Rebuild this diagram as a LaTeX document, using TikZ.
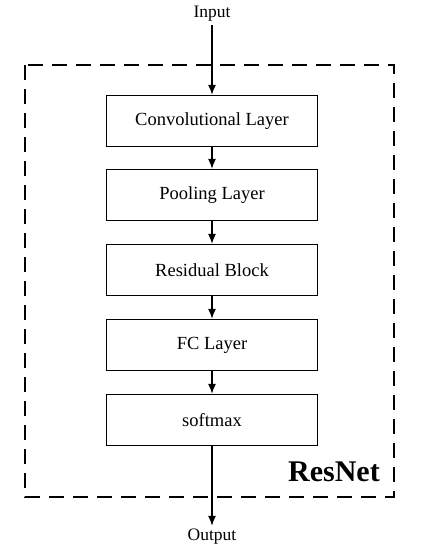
\documentclass[tikz,border=0pt]{standalone}
\usepackage{fontspec}
\setmainfont{Liberation Serif}
\usetikzlibrary{positioning,arrows.meta}
\begin{document}
\begin{tikzpicture}[x=1pt,y=-1pt]
\useasboundingbox (0,0) rectangle (426,550);
\tikzset{layer/.style={rectangle,draw,line width=1.3pt,minimum width=211pt,minimum height=51pt,font=\fontsize{18.5}{20}\selectfont},
  flow/.style={-{Latex[length=10pt,width=8pt]},line width=1.3pt}}
% Outer ResNet frame
\draw[line width=1.5pt,dash pattern=on 15pt off 9pt] (25,65) rectangle (394,497);
\node[font=\bfseries\fontsize{30}{32}\selectfont] (resnet) at (334,472) {ResNet};

% Input and output
\node[font=\fontsize{17.5}{19}\selectfont] (input) at (212,14) {Input};
\node[font=\fontsize{17.5}{19}\selectfont] (output) at (212,537) {Output};

% Layers
\node[layer] (conv) at (212,121) {Convolutional Layer};
\node[layer] (pool) at (212,195) {Pooling Layer};
\node[layer] (res) at (212,270) {Residual Block};
\node[layer] (fc) at (212,345) {FC Layer};
\node[layer] (soft) at (212,420) {softmax};

% Connections
\draw[flow] (input) -- (conv);
\draw[flow] (conv) -- (pool);
\draw[flow] (pool) -- (res);
\draw[flow] (res) -- (fc);
\draw[flow] (fc) -- (soft);
\draw[flow] (soft) -- (output);
\end{tikzpicture}
\end{document}
